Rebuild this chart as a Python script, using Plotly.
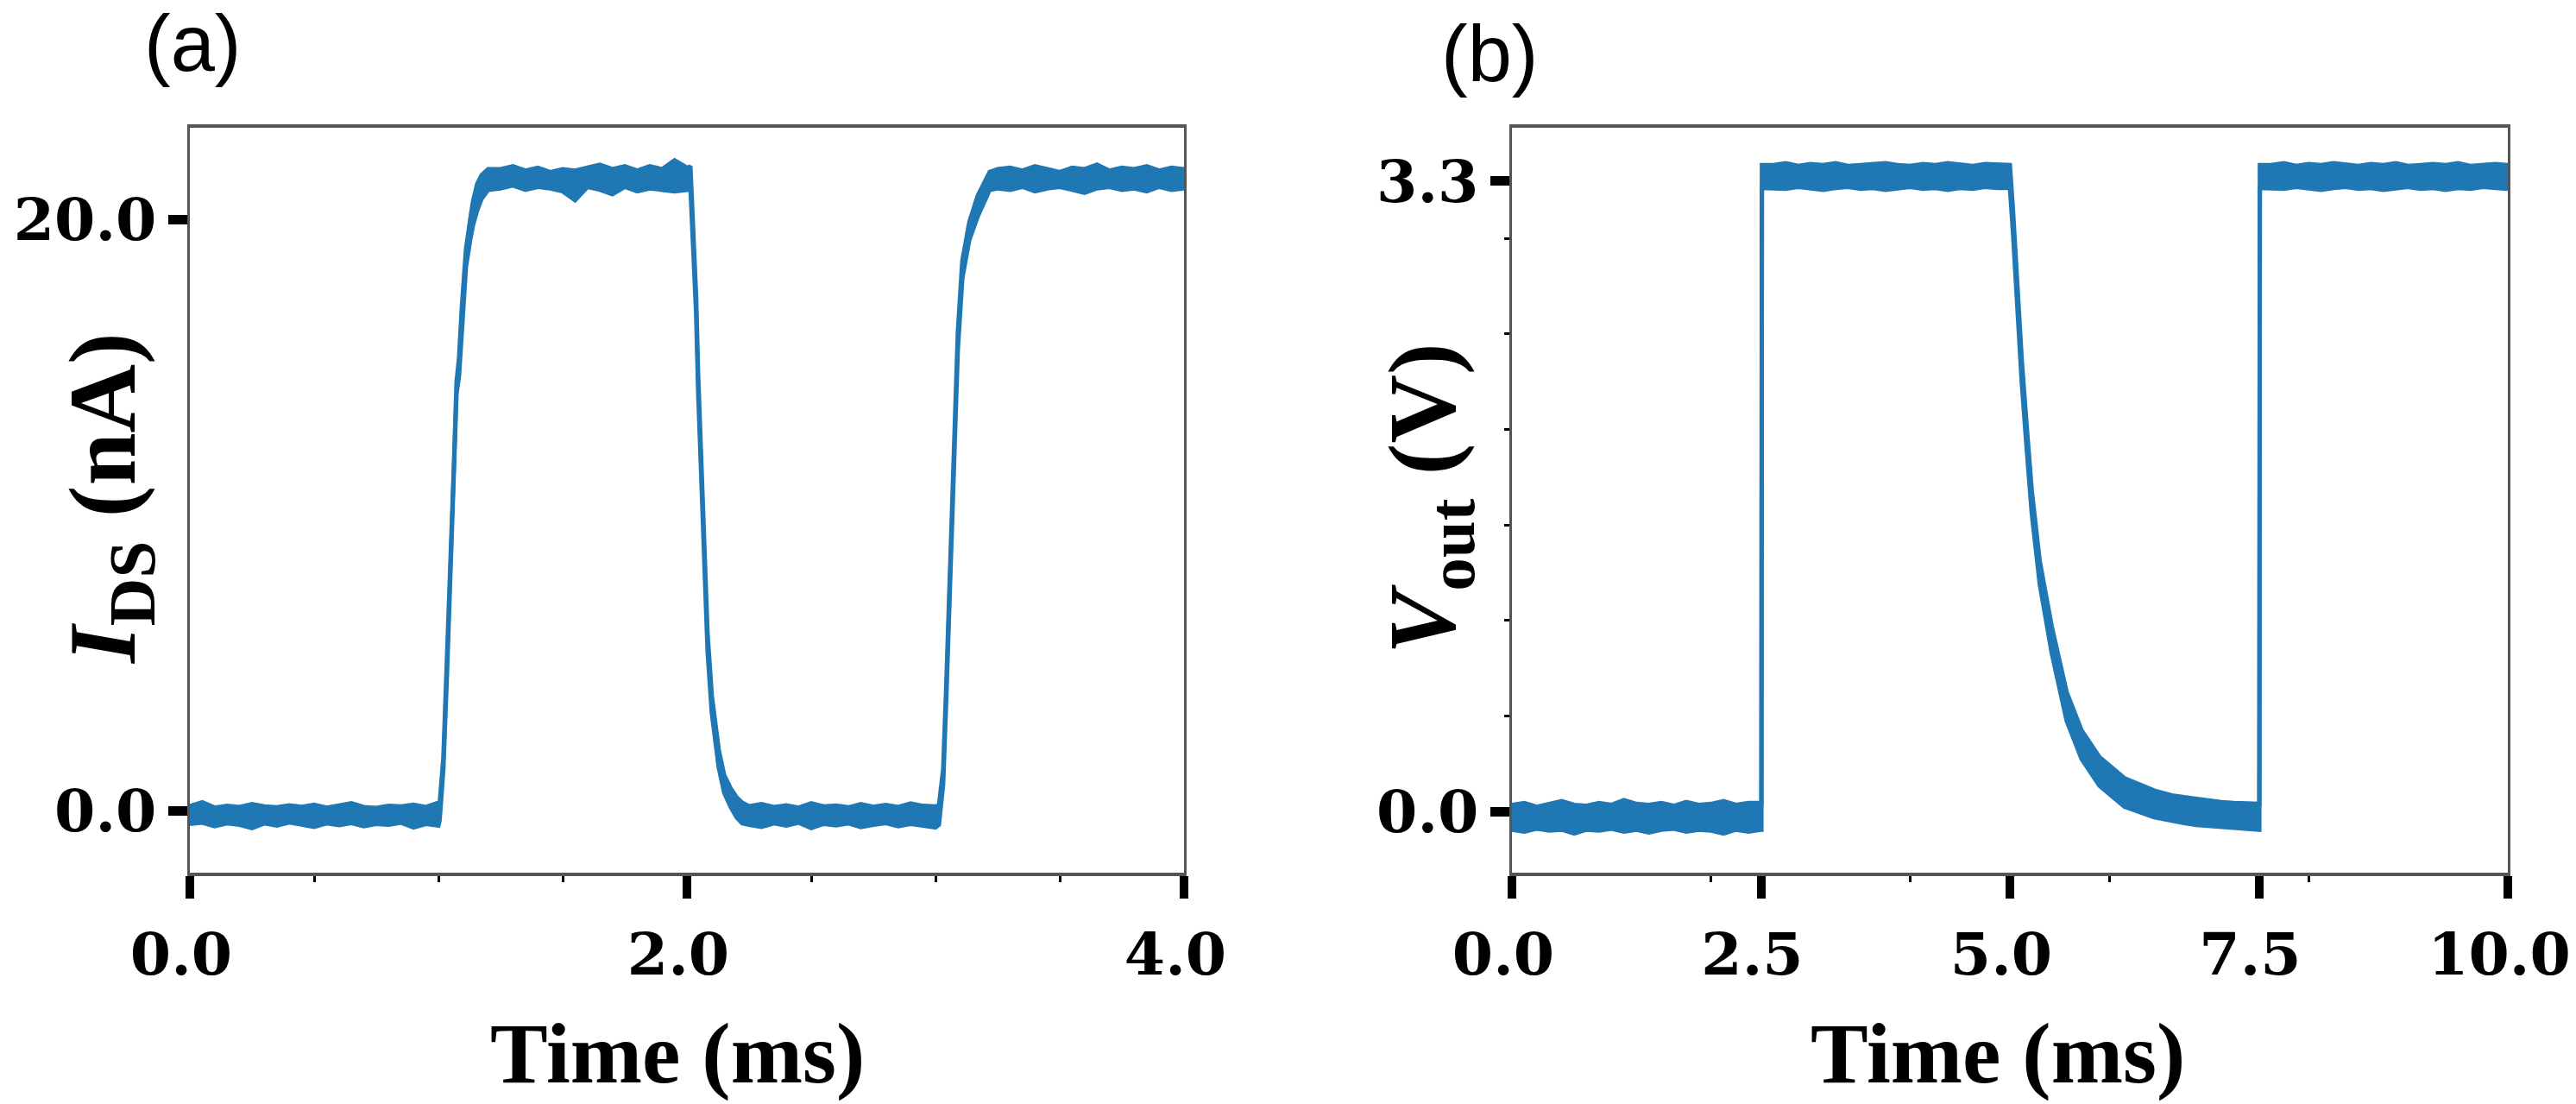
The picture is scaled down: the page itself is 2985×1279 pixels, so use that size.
import plotly.graph_objects as go

# ---------------- data ----------------
# Panel (a): drain current I_DS (nA) vs time (ms); upper / lower edge of the noisy trace
t_a = [0.00, 0.05, 0.10, 0.15, 0.20, 0.25, 0.30, 0.35, 0.40, 0.45, 0.50, 0.55, 0.60, 0.65, 0.70,
       0.75, 0.80, 0.85, 0.90, 0.95, 1.00,
       1.005, 1.02, 1.035, 1.05, 1.062, 1.073, 1.083, 1.094, 1.104, 1.111, 1.128, 1.139, 1.156, 1.174, 1.20,
       1.25, 1.30, 1.35, 1.40, 1.45, 1.50, 1.55, 1.60, 1.65, 1.70, 1.75, 1.80, 1.85, 1.90, 1.95, 2.00,
       2.005, 2.014, 2.024, 2.037, 2.045, 2.058, 2.069, 2.083, 2.100, 2.128, 2.150, 2.176, 2.200, 2.222,
       2.25, 2.30, 2.35, 2.40, 2.45, 2.50, 2.55, 2.60, 2.65, 2.70, 2.75, 2.80, 2.85, 2.90, 2.95, 3.00,
       3.014, 3.031, 3.044, 3.056, 3.066, 3.079, 3.090, 3.108, 3.136, 3.170, 3.218,
       3.25, 3.30, 3.35, 3.40, 3.45, 3.50, 3.55, 3.60, 3.65, 3.70, 3.75, 3.80, 3.85, 3.90, 3.95, 4.00]
ids_hi = [0.15, 0.28, 0.10, 0.16, 0.12, 0.22, 0.14, 0.11, 0.18, 0.13, 0.20, 0.10, 0.17, 0.25, 0.12,
          0.09, 0.16, 0.14, 0.20, 0.12, 0.27,
          0.22, 1.8, 5.1, 8.5, 11.6, 14.5, 15.3, 17.0, 18.1, 19.0, 20.0, 20.6, 21.2, 21.5, 21.7,
          21.7, 21.8, 21.65, 21.75, 21.6, 21.7, 21.65, 21.75, 21.85, 21.7, 21.8, 21.65, 21.8, 21.7, 22.0, 21.75,
          21.75, 21.8, 19.7, 17.4, 14.8, 11.5, 8.7, 6.0, 3.9, 2.05, 1.2, 0.75, 0.45, 0.27,
          0.15, 0.22, 0.12, 0.18, 0.10, 0.25, 0.14, 0.17, 0.11, 0.22, 0.13, 0.19, 0.12, 0.24, 0.16, 0.14,
          0.18, 1.4, 4.4, 7.6, 9.9, 13.1, 16.2, 18.6, 19.9, 20.8, 21.6,
          21.7, 21.75, 21.65, 21.8, 21.7, 21.6, 21.75, 21.7, 21.85, 21.65, 21.75, 21.7, 21.8, 21.65, 21.75, 21.7]
ids_lo = [-0.45, -0.41, -0.53, -0.43, -0.48, -0.59, -0.43, -0.51, -0.40, -0.47, -0.55, -0.43, -0.49, -0.42, -0.53,
          -0.45, -0.48, -0.41, -0.57, -0.45, -0.51,
          -0.33, 1.4, 4.7, 8.1, 11.2, 14.1, 14.7, 16.4, 17.5, 18.4, 19.3, 19.8, 20.3, 20.7, 21.0,
          21.05, 21.15, 21.0, 21.1, 21.05, 20.95, 20.65, 21.1, 21.0, 20.85, 21.1, 20.95, 21.05, 21.0, 20.95, 21.0,
          21.0, 21.1, 19.1, 16.8, 14.2, 10.9, 8.1, 5.4, 3.3, 1.45, 0.6, 0.12, -0.23, -0.43,
          -0.48, -0.55, -0.43, -0.51, -0.41, -0.59, -0.45, -0.50, -0.43, -0.56, -0.48, -0.42, -0.53, -0.45, -0.51, -0.57,
          -0.48, 0.9, 3.9, 7.0, 9.3, 12.5, 15.6, 18.0, 19.3, 20.1, 21.0,
          21.05, 21.0, 21.1, 20.95, 21.05, 21.1, 21.0, 20.9, 21.05, 21.1, 21.0, 21.05, 20.95, 21.1, 21.0, 21.05]

# Panel (b): output voltage V_out (V) vs time (ms); upper / lower edge of the noisy trace
t_b = [0.000, 0.125, 0.250, 0.375, 0.500, 0.625, 0.750, 0.875, 1.000, 1.125, 1.250, 1.375, 1.500, 1.625,
       1.750, 1.875, 2.000, 2.125, 2.250, 2.375, 2.500,
       2.505, 2.510,
       2.625, 2.750, 2.875, 3.000, 3.125, 3.250, 3.375, 3.500, 3.625, 3.750, 3.875, 4.000, 4.125, 4.250,
       4.375, 4.500, 4.625, 4.750, 4.875, 5.000,
       5.03, 5.07, 5.12, 5.17, 5.22, 5.30, 5.42, 5.57, 5.72, 5.90, 6.15, 6.45,
       6.625, 6.750, 6.875, 7.000, 7.125, 7.250, 7.375, 7.490,
       7.505, 7.510,
       7.625, 7.750, 7.875, 8.000, 8.125, 8.250, 8.375, 8.500, 8.625, 8.750, 8.875, 9.000, 9.125, 9.250,
       9.375, 9.500, 9.625, 9.750, 9.875, 10.000]
vout_hi = [0.035, 0.045, 0.025, 0.040, 0.055, 0.035, 0.030, 0.045, 0.035, 0.060, 0.040, 0.035, 0.045, 0.030,
           0.050, 0.035, 0.040, 0.055, 0.035, 0.045, 0.040,
           0.045, 3.385,
           3.385, 3.395, 3.380, 3.390, 3.385, 3.395, 3.380, 3.385, 3.390, 3.395, 3.385, 3.380, 3.390, 3.385,
           3.395, 3.385, 3.380, 3.390, 3.385, 3.385,
           3.16, 2.76, 2.36, 2.01, 1.68, 1.31, 0.97, 0.625, 0.425, 0.285, 0.175, 0.11,
           0.085, 0.075, 0.065, 0.055, 0.050, 0.045, 0.040, 0.040,
           0.040, 3.385,
           3.385, 3.395, 3.380, 3.390, 3.385, 3.395, 3.385, 3.380, 3.390, 3.385, 3.395, 3.380, 3.385, 3.390,
           3.385, 3.395, 3.380, 3.385, 3.390, 3.385]
vout_lo = [-0.095, -0.105, -0.090, -0.100, -0.095, -0.115, -0.095, -0.100, -0.090, -0.105, -0.095, -0.110, -0.095, -0.090,
           -0.105, -0.095, -0.100, -0.115, -0.095, -0.105, -0.095,
           -0.095, 3.265,
           3.265, 3.260, 3.270, 3.265, 3.255, 3.265, 3.270, 3.260, 3.265, 3.255, 3.265, 3.270, 3.260, 3.265,
           3.255, 3.265, 3.260, 3.270, 3.265, 3.265,
           3.04, 2.64, 2.24, 1.89, 1.56, 1.19, 0.83, 0.475, 0.275, 0.135, 0.025, -0.03,
           -0.050, -0.060, -0.070, -0.075, -0.085, -0.090, -0.095, -0.095,
           -0.095, 3.265,
           3.265, 3.260, 3.270, 3.265, 3.255, 3.265, 3.270, 3.260, 3.265, 3.255, 3.265, 3.270, 3.260, 3.265,
           3.255, 3.265, 3.260, 3.270, 3.265, 3.260]

# axis ticks
a_xticks = [0, 2, 4]
a_xticktext = ["0.0", "2.0", "4.0"]
a_xminor = [0.5, 1.0, 1.5, 2.5, 3.0, 3.5]
a_yticks = [0, 20]
a_yticktext = ["0.0", "20.0"]
b_xticks = [0, 2.5, 5, 7.5, 10]
b_xticktext = ["0.0", "2.5", "5.0", "7.5", "10.0"]
b_xminor = [2, 4, 6, 8]
b_yticks = [0, 3.3]
b_yticktext = ["0.0", "3.3"]
b_yminor = [0.5, 1.0, 1.5, 2.0, 2.5, 3.0]

# ---------------- figure ----------------
W, H = 2985, 1279
ML, MR, MT, MB = 220, 79, 148, 268
PW, PH = W - ML - MR, H - MT - MB


def px(x, y):
    return (x - ML) / PW, (H - MB - y) / PH


BLUE = "#1f77b4"
fig = go.Figure()
for xs, lo, hi, xa, ya in [(t_a, ids_lo, ids_hi, "x", "y"), (t_b, vout_lo, vout_hi, "x2", "y2")]:
    fig.add_trace(go.Scatter(x=xs, y=lo, mode="lines", line=dict(color=BLUE, width=5),
                             xaxis=xa, yaxis=ya, showlegend=False, hoverinfo="skip"))
    fig.add_trace(go.Scatter(x=xs, y=hi, mode="lines", line=dict(color=BLUE, width=5),
                             fill="tonexty", fillcolor=BLUE,
                             xaxis=xa, yaxis=ya, showlegend=False, hoverinfo="skip"))

tickfont = dict(family="DejaVu Serif", size=68, color="black", weight="bold")
common = dict(showgrid=False, zeroline=False, showline=True, linecolor="#555555", mirror=True,
              ticks="outside", tickcolor="black", tickfont=tickfont, automargin=False,
              tickmode="array", ticklabeloverflow="allow")

xa_common = dict(common, linewidth=4, ticklen=26, tickwidth=10, ticklabelstandoff=6, ticklabelshift=-10)
ya_common = dict(common, linewidth=3, ticklen=22, tickwidth=11, ticklabelstandoff=0)

fig.update_layout(
    width=W, height=H, template="none",
    paper_bgcolor="white", plot_bgcolor="white",
    margin=dict(l=ML, r=MR, t=MT, b=MB),
    xaxis=dict(xa_common, domain=[0, (1372 - ML) / PW], range=[0, 4], anchor="y",
               tickvals=a_xticks, ticktext=a_xticktext,
               minor=dict(tickmode="array", tickvals=a_xminor, ticks="outside", ticklen=7, tickwidth=3,
                          tickcolor="black", showgrid=False)),
    yaxis=dict(ya_common, domain=[0, 1], range=[-2.1, 23.1], anchor="x",
               tickvals=a_yticks, ticktext=a_yticktext),
    xaxis2=dict(xa_common, domain=[(1752 - ML) / PW, 1], range=[0, 10], anchor="y2",
                tickvals=b_xticks, ticktext=b_xticktext,
                minor=dict(tickmode="array", tickvals=b_xminor, ticks="outside", ticklen=7, tickwidth=3,
                           tickcolor="black", showgrid=False)),
    yaxis2=dict(ya_common, domain=[0, 1], range=[-0.32, 3.58], anchor="x2",
                tickvals=b_yticks, ticktext=b_yticktext,
                minor=dict(tickmode="array", tickvals=b_yminor, ticks="outside", ticklen=6, tickwidth=3,
                           tickcolor="black", showgrid=False)),
)

xtitle_font = dict(family="Liberation Serif", size=100, color="black", weight="bold")
ytitle_font = dict(family="Liberation Serif", size=110, color="black", weight="bold")
label_font = dict(family="Liberation Sans", size=92, color="black")
annos = [
    ("(a)", 223, 50, 0, label_font),
    ("(b)", 1726, 62, 0, label_font),
    ("Time (ms)", 785, 1220, 0, xtitle_font),
    ("Time (ms)", 2315, 1220, 0, xtitle_font),
    ("<i>I</i><sub>DS</sub> (nA)", 127, 578, -90, ytitle_font),
    ("<i>V</i><sub>out</sub> (V)", 1656, 578, -90, ytitle_font),
]
for text, x, y, ang, f in annos:
    ax, ay = px(x, y)
    fig.add_annotation(text=text, x=ax, y=ay, xref="paper", yref="paper", showarrow=False,
                       xanchor="center", yanchor="middle", textangle=ang, font=f)

fig.write_html("out.html")
